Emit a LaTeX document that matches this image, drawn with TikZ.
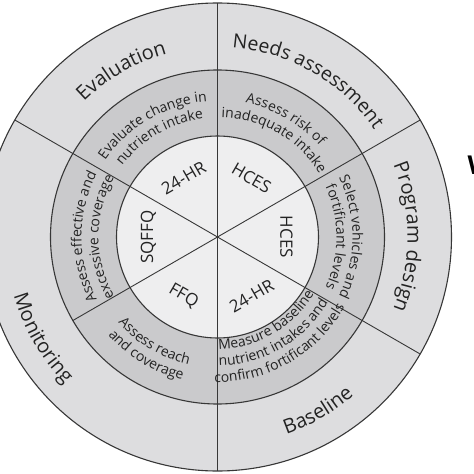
\documentclass[tikz,border=0pt]{standalone}
\usepackage{fontspec}
\setmainfont{Open Sans}
\usetikzlibrary{decorations.text}
\definecolor{outerc}{RGB}{221,221,223}
\definecolor{midc}{RGB}{202,202,204}
\definecolor{innerc}{RGB}{238,238,239}
\definecolor{linec}{RGB}{55,55,55}
\definecolor{txtc}{RGB}{35,35,35}
\newcommand{\cwtext}[4]{%
  \path[decorate,decoration={text along path,text align=center,text color=txtc,
    text={|\fontsize{#3}{#3}\selectfont|#4}}]
    ({#1+70}:#2) arc[start angle={#1+70},end angle={#1-70},radius=#2];}
\newcommand{\ccwtext}[4]{%
  \path[decorate,decoration={text along path,text align=center,text color=txtc,
    text={|\fontsize{#3}{#3}\selectfont|#4}}]
    ({#1-70}:#2) arc[start angle={#1-70},end angle={#1+70},radius=#2];}
\begin{document}
\begin{tikzpicture}[x=1pt,y=1pt,
  ringline/.style={draw=linec,line width=1.1pt},
  spoke/.style={draw=linec,line width=0.9pt},
  innerlab/.style={text=txtc,font=\fontsize{17}{17}\selectfont,inner sep=0pt}]
\useasboundingbox (-217.5,-237) rectangle (256.5,237);
\clip (-217.5,-237) rectangle (256.5,237);
\fill[white] (-217.5,-237) rectangle (256.5,237);
\coordinate (c) at (0,0);
\fill[outerc] (c) circle (234);
\fill[midc] (c) circle (167);
\fill[innerc] (c) circle (101);
\draw[ringline] (c) circle (234);
\draw[ringline] (c) circle (167);
\draw[ringline] (c) circle (101);
\foreach \a in {30,90,150,270,330} {
  \coordinate (e\a) at (\a:234);
  \draw[spoke] (c) -- (e\a);
}
\coordinate (e210) at (210:167);
\draw[spoke] (c) -- (e210);
% outer labels
\cwtext{120}{190}{20}{Evaluation}
\cwtext{60}{190}{19.5}{Needs assessment}
\cwtext{0}{190}{20}{Program design}
\ccwtext{-60}{209}{20}{Baseline}
\ccwtext{210}{212}{20}{Monitoring}
% middle labels
\cwtext{120}{136}{14}{Evaluate change in}
\cwtext{120}{119}{14}{nutrient intake}
\cwtext{60}{137}{14}{Assess risk of}
\cwtext{60}{120}{14}{inadequate intake}
\cwtext{0}{135}{14}{Select vehicles and}
\cwtext{0}{119}{14}{fortificant levels}
\cwtext{180}{136}{14}{Assess effective and}
\cwtext{180}{119}{14}{excessive coverage}
\ccwtext{-60}{112}{14}{Measure baseline}
\ccwtext{-60}{128.5}{14}{nutrient intakes and}
\ccwtext{-60}{145}{14}{confirm fortificant levels}
\ccwtext{239}{131}{14}{Assess reach}
\ccwtext{239}{147}{14}{and coverage}
% inner labels
\node[innerlab,rotate=30] (i1) at (120:68) {24-HR};
\node[innerlab,rotate=-30] (i2) at (60:68) {HCES};
\node[innerlab,rotate=-90] (i3) at (0:69) {HCES};
\node[innerlab,rotate=30] (i4) at (-60:68) {24-HR};
\node[innerlab,rotate=-30] (i5) at (240:68) {FFQ};
\node[innerlab,rotate=90] (i6) at (180:69) {SQFFQ};
% clipped glyph at right edge
\node[anchor=north west,inner sep=0pt,text=black,font=\fontsize{26}{26}\selectfont\bfseries] (wg) at (250,81) {W};
\end{tikzpicture}
\end{document}
